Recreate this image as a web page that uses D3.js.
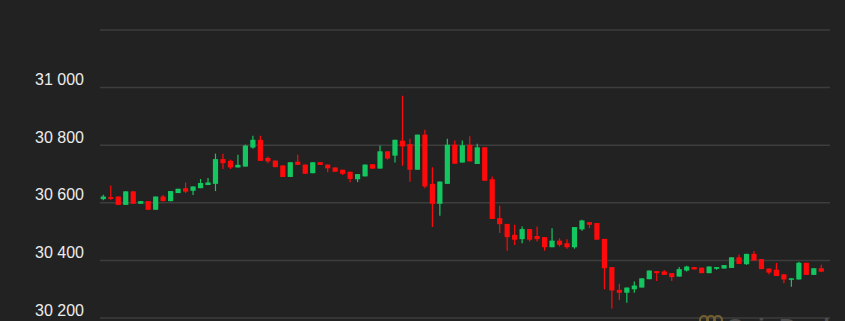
<!DOCTYPE html>
<html>
<head>
<meta charset="utf-8">
<script src="https://cdn.jsdelivr.net/npm/d3@7"></script>
<style>
  html, body { margin: 0; padding: 0; background: #222222; }
  svg { display: block; }
</style>
</head>
<body>
<div id="chart"></div>
<script>
// OHLC values, one candle per entry
const opens  = [30611,30618,30620,30591,30638,30595,30604,30574,30620,30604,30632,30649,30640,30649,30660,30664,30750,30744,30721,30724,
                30790,30817,30754,30745,30728,30688,30741,30731,30701,30739,30731,30721,30713,30706,30680,30690,30732,30717,30777,30762,
                30814,30802,30713,30835,30664,30595,30664,30800,30738,30800,30733,30791,30680,30545,30525,30487,30472,30507,30483,30479,
                30444,30467,30458,30444,30506,30531,30528,30473,30375,30296,30286,30298,30304,30333,30361,30360,30354,30342,30363,30375,
                30373,30354,30369,30370,30372,30409,30385,30421,30403,30370,30366,30350,30332,30332,30390,30348,30371];
const closes = [30620,30612,30591,30638,30595,30604,30574,30620,30604,30639,30647,30637,30655,30667,30669,30750,30736,30721,30730,30797,
                30817,30744,30742,30722,30688,30739,30730,30699,30739,30730,30718,30706,30699,30681,30698,30731,30717,30777,30752,30817,
                30794,30713,30835,30655,30595,30672,30800,30734,30798,30742,30791,30675,30542,30524,30479,30470,30507,30470,30472,30444,
                30467,30452,30444,30514,30537,30522,30470,30371,30294,30286,30304,30311,30336,30363,30354,30348,30340,30368,30377,30367,
                30354,30377,30375,30382,30409,30386,30421,30398,30368,30356,30344,30332,30336,30390,30348,30371,30359];
const highs  = [30626,30658,30620,30638,30638,30604,30604,30620,30625,30639,30647,30669,30655,30681,30684,30769,30769,30748,30765,30800,
                30831,30831,30759,30745,30728,30739,30765,30731,30739,30739,30731,30721,30713,30706,30698,30731,30732,30797,30777,30817,
                30970,30821,30835,30852,30722,30672,30821,30815,30815,30829,30803,30791,30690,30588,30525,30522,30516,30507,30516,30479,
                30510,30475,30472,30514,30539,30531,30528,30473,30375,30317,30304,30325,30336,30363,30361,30365,30354,30375,30380,30375,
                30373,30377,30375,30382,30409,30419,30421,30431,30403,30370,30389,30350,30336,30394,30390,30371,30383];
const lows   = [30607,30609,30591,30591,30595,30595,30574,30574,30604,30604,30632,30632,30625,30649,30660,30639,30716,30716,30721,30724,
                30786,30744,30736,30722,30688,30688,30730,30699,30701,30730,30704,30706,30695,30670,30670,30690,30717,30717,30748,30738,
                30727,30671,30713,30649,30514,30553,30664,30734,30738,30742,30733,30675,30542,30493,30432,30452,30458,30464,30464,30432,
                30444,30446,30439,30439,30501,30510,30470,30298,30231,30261,30251,30286,30304,30333,30327,30348,30327,30342,30360,30367,
                30354,30354,30366,30370,30372,30386,30383,30398,30368,30350,30344,30319,30307,30332,30348,30348,30359];
const tickValues = [30200, 30400, 30600, 30800, 31000, 31200];
const tickLabels = ["30 200", "30 400", "30 600", "30 800", "31 000", ""];

const W = 845, H = 321;
const UP = "#14c65f", DOWN = "#ff0a0a";

const candles = opens.map((o, i) => ({ i, o, c: closes[i], h: highs[i], l: lows[i] }));

const svg = d3.select("#chart").append("svg")
  .attr("width", W)
  .attr("height", H);

svg.append("rect").attr("width", W).attr("height", H).attr("fill", "#222222");

const y = d3.scaleLinear().domain([30200, 31200]).range([317.5, 29.5]);
const x = d3.scalePoint().domain(candles.map(d => d.i)).range([103.3, 821.3]);

// grid + labels
const yAxis = d3.axisLeft(y)
  .tickValues(tickValues)
  .tickSize(-730)
  .tickFormat((d, k) => tickLabels[k]);

const ga = svg.append("g")
  .attr("transform", "translate(100,0)")
  .call(yAxis);
ga.select(".domain").remove();
ga.selectAll(".tick line")
  .attr("stroke", "#3d3d3d")
  .attr("stroke-width", 1.5);
ga.selectAll(".tick text")
  .attr("x", -16)
  .attr("dy", "-2.5px")
  .attr("fill", "#ececec")
  .style("font-family", "'Liberation Sans', Arial, sans-serif")
  .style("font-size", "16px");

// candles
const cg = svg.append("g");
const color = d => d.c >= d.o ? UP : DOWN;

cg.selectAll("line.wick")
  .data(candles)
  .join("line")
  .attr("class", "wick")
  .attr("x1", d => x(d.i))
  .attr("x2", d => x(d.i))
  .attr("y1", d => y(d.h))
  .attr("y2", d => y(d.l))
  .attr("stroke", color)
  .attr("stroke-width", 1.2);

cg.selectAll("rect.body")
  .data(candles)
  .join("rect")
  .attr("class", "body")
  .attr("x", d => x(d.i) - 2.6)
  .attr("width", 5.2)
  .attr("y", d => y(Math.max(d.o, d.c)))
  .attr("height", d => Math.max(1.5, Math.abs(y(d.o) - y(d.c))))
  .attr("fill", color);

// watermark, cut off by the bottom edge as in the reference
const wm = svg.append("g").attr("opacity", 0.75);
wm.selectAll("circle")
  .data([0, 1, 2])
  .join("circle")
  .attr("cx", k => 704 + k * 7)
  .attr("cy", 320)
  .attr("r", 4)
  .attr("fill", "none")
  .attr("stroke", "#8c7233")
  .attr("stroke-width", 2.2);
wm.append("text")
  .attr("x", 726)
  .attr("y", 336)
  .attr("fill", "#5a5a5a")
  .style("font-family", "'Liberation Sans', Arial, sans-serif")
  .style("font-size", "24px")
  .style("font-weight", "bold")
  .text("CoinDesk");
</script>
</body>
</html>
